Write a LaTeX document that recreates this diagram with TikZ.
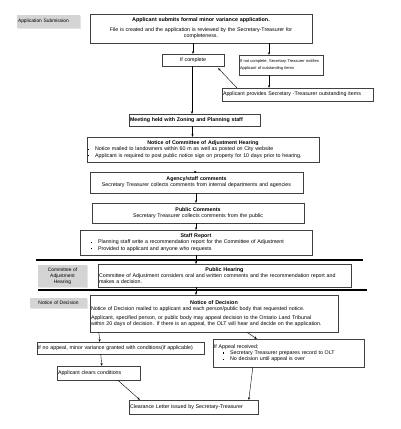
\documentclass[tikz,border=0pt]{standalone}
\usepackage{fontspec}
\setmainfont{Liberation Sans}
\usetikzlibrary{arrows.meta, shadows}
\newcommand{\bul}{\rule[.8pt]{1.1pt}{1.1pt}\hspace{6pt}}

\begin{document}
\begin{tikzpicture}[x=1pt, y=-1pt,
    font=\fontsize{5.3}{6.2}\selectfont,
    box/.style={draw=black!75, line width=.4pt, fill=white, inner xsep=1pt, inner ysep=1.5pt,
        drop shadow={shadow xshift=.8pt, shadow yshift=-.8pt, fill=black!35, opacity=1}},
    stage/.style={fill=black!17, inner xsep=1pt, inner ysep=1pt, font=\fontsize{4.9}{5.8}\selectfont,
        drop shadow={shadow xshift=.6pt, shadow yshift=-.6pt, fill=black!10, opacity=1}},
    arr/.style={-{Stealth[length=2.6pt, width=2.2pt]}, line width=.4pt},
    rule/.style={line width=1.1pt}]
\useasboundingbox (0,0) rectangle (400,429);

% stages
\node[stage, text width=61pt, minimum height=13pt, align=left] (appsub) at (48.5,21.5) {Application Submission};
\node[stage, text width=47pt, minimum height=22pt, align=center] (hearstage) at (62.5,276) {Committee of\\Adjustment\\Hearing};
\node[stage, text width=55pt, minimum height=10pt, align=center] (decstage) at (58.5,303) {Notice of Decision};

% boxes
\node[box, text width=220pt, minimum height=29pt, align=center] (submit) at (201,28.5)
    {{\bfseries\fontsize{5.4}{6.2}\selectfont Applicant submits formal minor variance application.}\\[3.5pt]
    File is created and the application is reviewed by the Secretary-Treasurer for\\completeness.};
\node[box, text width=60pt, minimum height=12pt, align=center] (complete) at (193,60) {If complete};
\node[box, text width=82pt, minimum height=20pt, align=left, font=\fontsize{4}{7}\selectfont] (notcomplete) at (281,65)
    {\mbox{If not complete, Secretary-Treasurer notifies}\\Applicant of outstanding items};
\node[box, text width=149pt, minimum height=13pt, align=left] (provides) at (297.5,94.5)
    {Applicant provides Secretary -Treasurer outstanding items};
\node[box, text width=129pt, minimum height=12pt, align=left] (meeting) at (194.5,120)
    {\bfseries Meeting held with Zoning and Planning staff};
\node[box, text width=230pt, minimum height=25pt, align=left] (notice) at (203,149.5)
    {\centerline{\bfseries Notice of Committee of Adjustment Hearing}
    \bul Notice mailed to landowners within 60 m as well as posted on City website\\
    \bul Applicant is required to post public notice sign on property for 10 days prior to hearing.};
\node[box, text width=211pt, minimum height=21pt, align=center] (agency) at (196.5,182.5)
    {\textbf{Agency/staff comments}\\Secretary Treasurer collects comments from internal departments and agencies};
\node[box, text width=210pt, minimum height=20pt, align=center] (pubcom) at (198,213)
    {\textbf{Public Comments}\\Secretary Treasurer collects comments from the public};
\node[box, text width=230pt, minimum height=25pt, align=left] (staff) at (196,242.5)
    {\centerline{\bfseries Staff Report}
    \hspace*{10pt}\bul Planning staff write a recommendation report for the Committee of Adjustment\\
    \hspace*{10pt}\bul Provided to applicant and anyone who requests};
\node[box, text width=251pt, minimum height=23pt, align=left] (hearing) at (224.5,275.5)
    {\centerline{\bfseries\fontsize{5.4}{6.2}\selectfont Public Hearing}
    Committee of Adjustment considers oral and written comments and the recommendation report and\\makes a decision.};
\node[box, text width=246pt, minimum height=37pt, align=left] (decision) at (214,313.5)
    {\centerline{\bfseries\fontsize{5.4}{6.2}\selectfont Notice of Decision}
    Notice of Decision mailed to applicant and each person/public body that requested notice.\\[3pt]
    Applicant, specified person, or public body may appeal decision to the Ontario Land Tribunal\\
    within 20 days of decision. If there is an appeal, the OLT will hear and decide on the application.};
\node[box, text width=165pt, minimum height=12pt, align=left] (noappeal) at (120.5,348)
    {If no appeal, minor variance granted with conditions(if applicable)};
\node[box, text width=149pt, minimum height=28pt, align=left] (appeal) at (288.5,353)
    {If Appeal received;\\
    \hspace*{9pt}\bul Secretary Treasurer prepares record to OLT\\
    \hspace*{9pt}\bul No decision until appeal is over};
\node[box, text width=81pt, minimum height=14pt, align=left] (clears) at (98.5,373)
    {Applicant clears conditions};
\node[box, text width=127pt, minimum height=14pt, align=left] (clearance) at (193.5,407)
    {Clearance Letter issued by Secretary-Treasurer};

% stage dividers
\draw[rule] (36,260) -- (363,260);
\draw[rule] (38,290) -- (367,290);

% connectors
\draw[arr] (complete.north |- submit.south) -- (complete.north);
\draw[arr] ([xshift=-12pt]notcomplete.north |- submit.south) -- ([xshift=-12pt]notcomplete.north);
\draw[arr] ([xshift=-12pt]notcomplete.south) -- ([xshift=-12pt]notcomplete.south |- provides.north);
\draw[arr] ([xshift=15pt]provides.north west) -- ([xshift=-6pt,yshift=-2pt]complete.south east);
\draw[arr] ([xshift=-1pt]complete.south) -- ([xshift=-1pt]complete.south |- meeting.north);
\draw[arr] ([xshift=-2pt]meeting.south) -- ([xshift=-2pt]meeting.south |- notice.north);
\draw[arr] (agency.north -| staff.south) -- (agency.north);
\draw[arr] (agency.south -| staff.south) -- (pubcom.north -| staff.south);
\draw[arr] (pubcom.south -| staff.south) -- (staff.north);
\draw[arr] (staff.south) -- (staff.south |- hearing.north);
\draw[arr] (staff.south |- hearing.south) -- (staff.south |- decision.north);
\draw[arr] ([xshift=9pt]decision.south west) -- ([xshift=63pt]noappeal.north west);
\draw[arr] ([xshift=157pt]decision.south west) -- ([xshift=44pt]appeal.north west);
\draw[arr] ([xshift=64pt]noappeal.south west) -- ([xshift=45pt]clears.north west);
\draw[arr] ([xshift=61pt]clears.south west) -- ([xshift=11pt]clearance.north west);
\draw[arr] ([xshift=40pt]appeal.south west) -- ([xshift=120pt]clearance.north west);
\end{tikzpicture}
\end{document}
